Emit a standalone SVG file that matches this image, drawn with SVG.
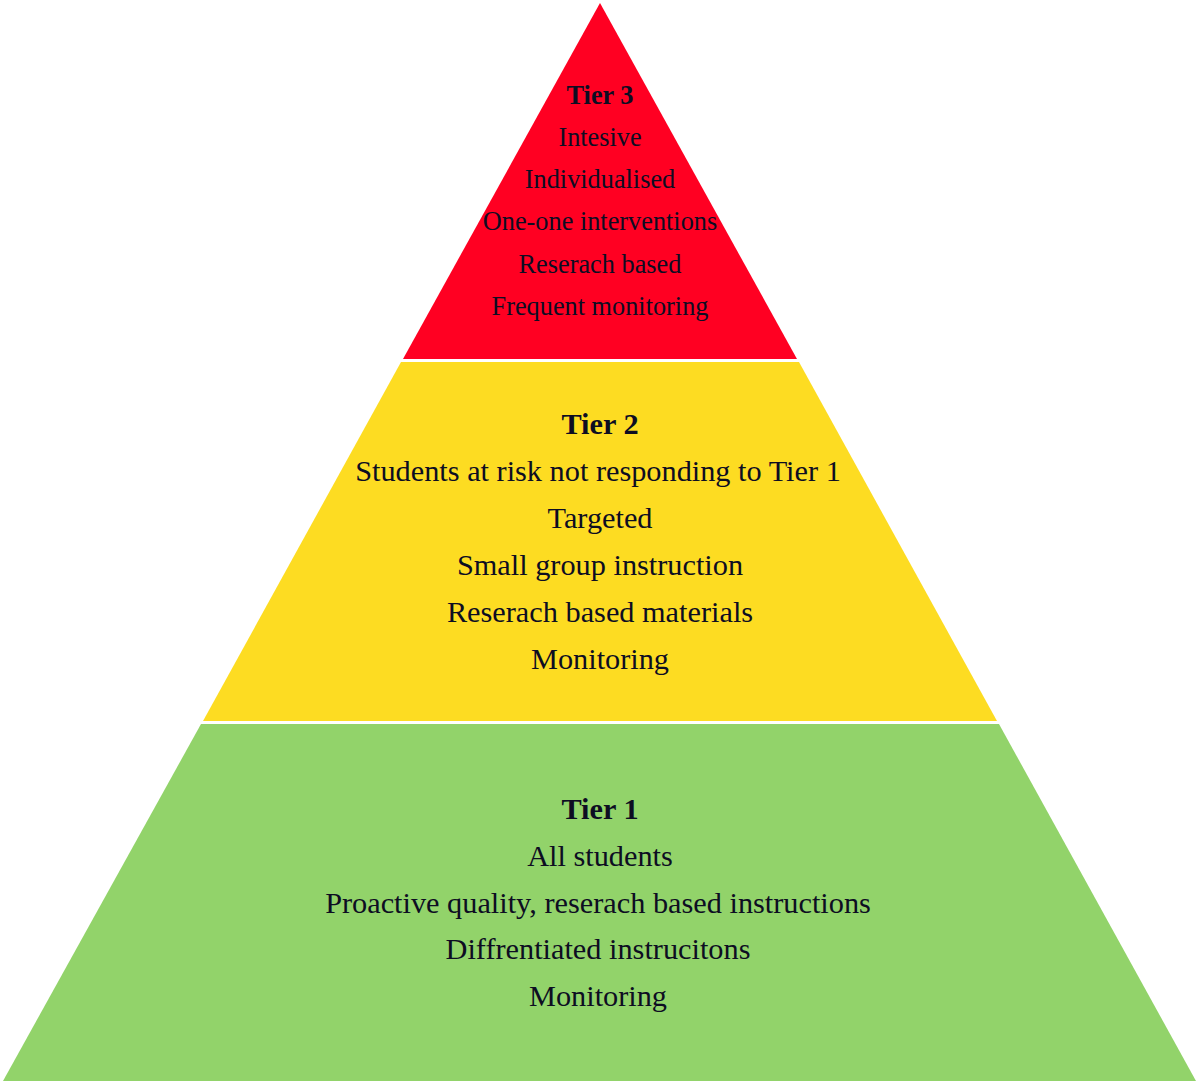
<svg xmlns="http://www.w3.org/2000/svg" width="1200" height="1084" viewBox="0 0 1200 1084">
<style>
text { font-family: "Liberation Serif", "Times New Roman", serif; fill: #0d0d22; text-anchor: middle; }
.t3 { font-size: 26.3px; }
.t2 { font-size: 30.3px; }
.h { font-weight: bold; }
</style>
<rect x="0" y="0" width="1200" height="1084" fill="#ffffff"/>
<g id="tier3">
<polygon points="600,3 797,359 403,359" fill="#ff0022"/>
<text class="t3 h" x="600" y="104">Tier 3</text>
<text class="t3" x="600" y="146">Intesive</text>
<text class="t3" x="600" y="188">Individualised</text>
<text class="t3" x="600" y="230">One-one interventions</text>
<text class="t3" x="600" y="273">Reserach based</text>
<text class="t3" x="600" y="315">Frequent monitoring</text>
</g>
<g id="tier2">
<polygon points="401,362 799,362 997,721 203,721" fill="#fddc22"/>
<text class="t2 h" x="600" y="434">Tier 2</text>
<text class="t2" x="598" y="481">Students at risk not responding to Tier 1</text>
<text class="t2" x="600" y="528">Targeted</text>
<text class="t2" x="600" y="575">Small group instruction</text>
<text class="t2" x="600" y="622">Reserach based materials</text>
<text class="t2" x="600" y="669">Monitoring</text>
</g>
<g id="tier1">
<polygon points="201,724 999,724 1196,1081 3,1081" fill="#92d36a"/>
<text class="t2 h" x="600" y="819">Tier 1</text>
<text class="t2" x="600" y="866">All students</text>
<text class="t2" x="598" y="913">Proactive quality, reserach based instructions</text>
<text class="t2" x="598" y="959">Diffrentiated instrucitons</text>
<text class="t2" x="598" y="1006">Monitoring</text>
</g>
<g id="connectors"></g>
</svg>
